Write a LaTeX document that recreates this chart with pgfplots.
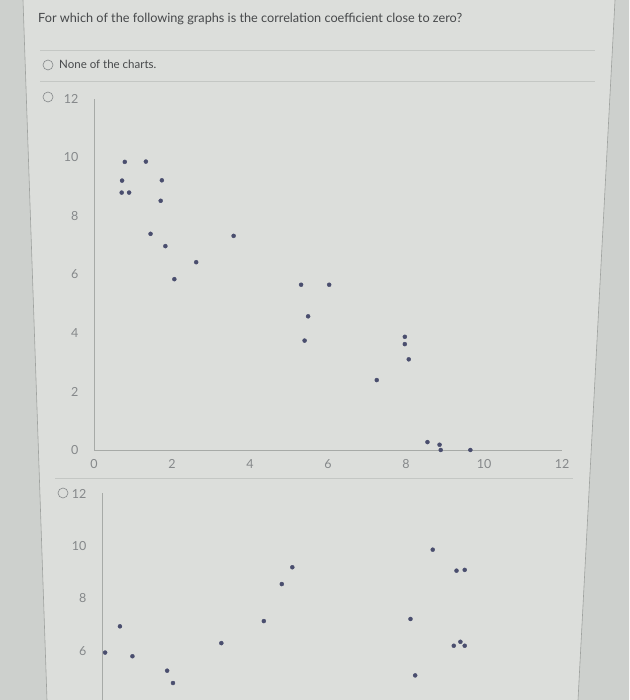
\documentclass[border=0pt]{standalone}
\usepackage{fontspec}
\setmainfont{Lato}
\usepackage{pgfplots}
\pgfplotsset{compat=1.18}

\definecolor{bg}{HTML}{DCDEDB}
\definecolor{edge}{HTML}{CDD0CD}
\definecolor{frameline}{HTML}{9FA29F}
\definecolor{rule}{HTML}{C4C7C4}
\definecolor{axisgray}{HTML}{A7AAA7}
\definecolor{ticktext}{HTML}{85888A}
\definecolor{qtext}{HTML}{46484A}
\definecolor{dot}{HTML}{4A4E6E}

\pgfplotsset{
  quizscatter/.style={
    scale only axis,
    width=468pt,
    xmin=0, xmax=12, ymin=0, ymax=12,
    axis lines=left,
    axis line style={draw=axisgray, line width=0.7pt, -},
    xtick={0,2,...,12}, ytick={0,2,...,12},
    major tick length=0pt,
    tick label style={font=\fontsize{12.5}{14}\selectfont, text=ticktext},
    /pgf/number format/assume math mode=true,
    yticklabel style={xshift=-12pt},
    xticklabel style={yshift=-6pt},
    clip=false,
  },
  dots/.style={only marks, mark=*, mark size=2pt, color=dot},
}

\begin{document}
\begin{tikzpicture}[x=1pt, y=1pt]
  \useasboundingbox (0,0) rectangle (629,700);
  \clip (0,0) rectangle (629,700);
  % page background and the edges of the quiz box
  \fill[bg] (0,0) rectangle (629,700);
  \fill[edge] (0,0) -- (47,0) -- (23,700) -- (0,700) -- cycle;
  \fill[edge] (578,0) -- (629,0) -- (629,700) -- (615,700) -- cycle;
  \draw[frameline, line width=0.6pt] (47,0) -- (23,700);
  \draw[frameline, line width=0.6pt] (578,0) -- (615,700);

  % question and options
  \node[anchor=base west, inner sep=0, text=qtext, font=\fontsize{12.7}{15}\selectfont]
    at (38,677) {For which of the following graphs is the correlation coefficient close to zero?};
  \draw[rule, line width=0.8pt] (40,650) -- (595,650);
  \draw[ticktext, line width=0.6pt] (48,635) circle (5);
  \node[anchor=base west, inner sep=0, text=qtext, font=\fontsize{11.5}{14}\selectfont]
    at (59,631) {None of the charts.};
  \draw[rule, line width=0.8pt] (40,619) -- (595,619);
  \draw[ticktext, line width=0.6pt] (48,603) circle (5);
  \draw[rule, line width=0.8pt] (55,222) -- (573,222);
  \draw[ticktext, line width=0.6pt] (63,207) circle (5);

  % first chart
  \begin{axis}[quizscatter, height=351pt, at={(94pt,250pt)}, anchor=south west]
    \addplot[dots] coordinates {
      (0.79,9.85) (1.33,9.86) (0.72,9.21) (1.74,9.22) (0.71,8.80) (0.90,8.80)
      (1.71,8.52) (1.45,7.39) (3.58,7.32) (1.83,6.97) (2.62,6.42) (2.06,5.84)
      (5.31,5.65) (6.03,5.65) (5.49,4.57) (5.40,3.74) (7.97,3.87) (7.97,3.62)
      (8.07,3.10) (7.25,2.39) (8.55,0.27) (8.86,0.18) (8.89,0.00) (9.65,0.00)
    };
  \end{axis}

  % second chart (cut off by the bottom of the photo)
  \begin{axis}[quizscatter, height=315pt, at={(102pt,-108.5pt)}, anchor=south west,
      ytick={6,8,10,12}, xticklabels={}]
    \addplot[dots] coordinates {
      (0.08,5.94) (0.46,6.94) (0.78,5.80) (1.67,5.25) (1.82,4.78) (3.06,6.30)
      (4.15,7.14) (4.61,8.55) (4.88,9.19) (8.48,9.86) (9.09,9.06) (9.30,9.09)
      (7.91,7.22) (9.02,6.20) (9.19,6.35) (9.30,6.20) (8.03,5.07)
    };
  \end{axis}
\end{tikzpicture}
\end{document}
